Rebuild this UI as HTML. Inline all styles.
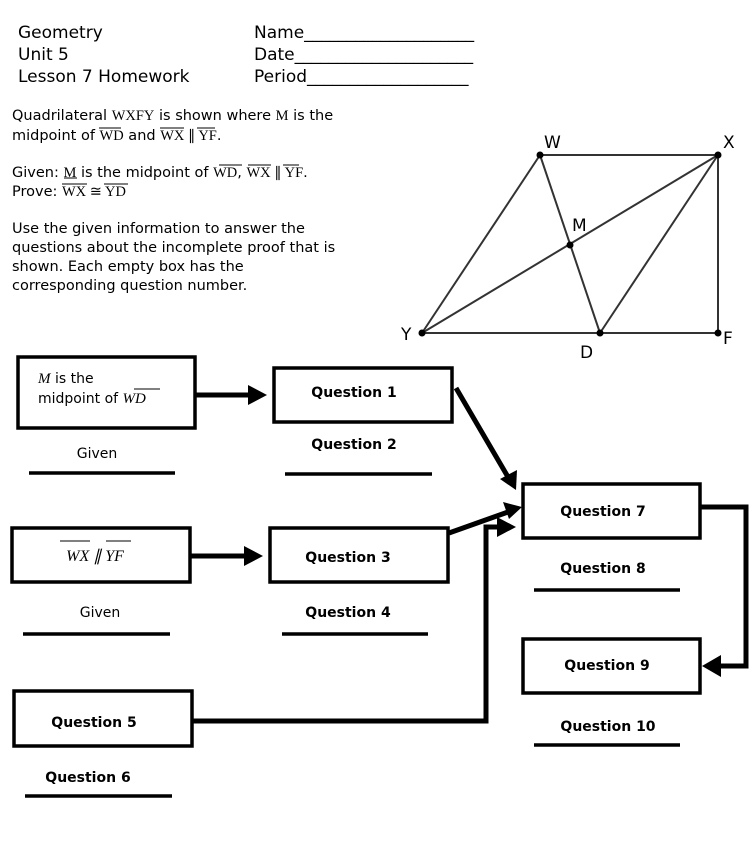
<!DOCTYPE html>
<html><head><meta charset="utf-8"><style>
body{margin:0;background:#fff;}
svg{display:block}
text{font-family:"DejaVu Sans","Liberation Sans",sans-serif;fill:#000}
.h{font-size:17px}
.p{font-size:14.5px}
.b{font-size:14px;font-weight:bold}
.g{font-size:14px}
.s{font-family:"Liberation Serif",serif}
.l{stroke:#333;stroke-width:2;fill:none}
</style></head><body>
<svg width="754" height="843" viewBox="0 0 754 843">
<text class="h" x="18" y="38">Geometry</text>
<text class="h" x="18" y="60">Unit 5</text>
<text class="h" x="18" y="82">Lesson 7 Homework</text>
<text class="h" x="254" y="38">Name____________________</text>
<text class="h" x="254" y="60">Date_____________________</text>
<text class="h" x="254" y="82">Period___________________</text>

<text class="p" x="12" y="120">Quadrilateral <tspan class="s">WXFY</tspan> is shown where <tspan class="s">M</tspan> is the</text>
<text class="p" x="12" y="140">midpoint of <tspan class="s">WD</tspan> and <tspan class="s">WX ∥ YF</tspan>.</text>
<line x1="99" y1="128" x2="121" y2="128" stroke="#000"/>
<line x1="160" y1="128" x2="184" y2="128" stroke="#000"/>
<line x1="197" y1="128" x2="215" y2="128" stroke="#000"/>
<text class="p" x="12" y="177">Given: <tspan class="s">M</tspan> is the midpoint of <tspan class="s">WD</tspan>, <tspan class="s">WX ∥ YF</tspan>.</text>
<line x1="64" y1="178" x2="77" y2="178" stroke="#000"/>
<line x1="219" y1="165" x2="242" y2="165" stroke="#000"/>
<line x1="248" y1="165" x2="271" y2="165" stroke="#000"/>
<line x1="283" y1="165" x2="299" y2="165" stroke="#000"/>
<text class="p" x="12" y="196">Prove: <tspan class="s">WX ≅ YD</tspan></text>
<line x1="62" y1="184" x2="87" y2="184" stroke="#000"/>
<line x1="104" y1="184" x2="128" y2="184" stroke="#000"/>
<text class="p" x="12" y="233">Use the given information to answer the</text>
<text class="p" x="12" y="252">questions about the incomplete proof that is</text>
<text class="p" x="12" y="271">shown. Each empty box has the</text>
<text class="p" x="12" y="290">corresponding question number.</text>

<!-- geometry -->
<g class="l">
<line x1="540" y1="155" x2="718" y2="155"/>
<line x1="718" y1="155" x2="718" y2="333"/>
<line x1="422" y1="333" x2="718" y2="333"/>
<line x1="422" y1="333" x2="540" y2="155"/>
<line x1="540" y1="155" x2="600" y2="333"/>
<line x1="422" y1="333" x2="718" y2="155"/>
<line x1="600" y1="333" x2="718" y2="155"/>
</g>
<g fill="#000"><circle cx="540" cy="155" r="3.5"/><circle cx="718" cy="155" r="3.5"/><circle cx="570" cy="245" r="3.5"/><circle cx="422" cy="333" r="3.5"/><circle cx="600" cy="333" r="3.5"/><circle cx="718" cy="333" r="3.5"/></g>
<g style="font-family:'Liberation Sans',sans-serif;font-size:17px">
<text x="544" y="148">W</text><text x="723" y="148">X</text><text x="572" y="231">M</text>
<text x="401" y="340">Y</text><text x="580" y="358">D</text><text x="723" y="344">F</text></g>

<!-- flowchart boxes -->
<g fill="none" stroke="#000" stroke-width="3.5">
<rect x="18" y="357" width="177" height="71"/>
<rect x="274" y="368" width="178" height="54"/>
<rect x="12" y="528" width="178" height="54"/>
<rect x="270" y="528" width="178" height="54"/>
<rect x="523" y="484" width="177" height="54"/>
<rect x="523" y="639" width="177" height="54"/>
<rect x="14" y="691" width="178" height="55"/>
</g>

<!-- underlines -->
<g stroke="#000" stroke-width="3.5">
<line x1="29" y1="473" x2="175" y2="473"/>
<line x1="285" y1="474" x2="432" y2="474"/>
<line x1="534" y1="590" x2="680" y2="590"/>
<line x1="23" y1="634" x2="170" y2="634"/>
<line x1="282" y1="634" x2="428" y2="634"/>
<line x1="534" y1="745" x2="680" y2="745"/>
<line x1="25" y1="796" x2="172" y2="796"/>
</g>

<!-- connectors -->
<g stroke="#000" stroke-width="5" fill="none">
<line x1="195" y1="395" x2="250" y2="395"/>
<line x1="190" y1="556" x2="246" y2="556"/>
<line x1="456" y1="388" x2="508" y2="477"/>
<line x1="449" y1="533" x2="508" y2="512"/>
<polyline points="192,721 486,721 486,527 500,527"/>
<polyline points="700,507 746,507 746,666 718,666"/>
</g>
<g fill="#000">
<polygon points="267,395 248,385 248,405"/>
<polygon points="263,556 244,546 244,566"/>
<polygon points="516,490 500,479 517,470"/>
<polygon points="522,507 503,502 509,519"/>
<polygon points="516,527 497,517 497,537"/>
<polygon points="702,666 721,655 721,677"/>
</g>

<!-- box texts -->
<text class="g" x="38" y="383"><tspan class="s" font-style="italic" font-size="15">M</tspan> is the</text>
<text class="g" x="38" y="403">midpoint of <tspan class="s" font-style="italic" font-size="15">WD</tspan></text>
<line x1="134" y1="389" x2="160" y2="389" stroke="#000" stroke-width="1"/>
<text class="s" x="95" y="561" text-anchor="middle" font-style="italic" font-size="16">WX ∥ YF</text>
<line x1="60" y1="541" x2="90" y2="541" stroke="#000" stroke-width="1"/>
<line x1="106" y1="541" x2="131" y2="541" stroke="#000" stroke-width="1"/>

<g class="b" text-anchor="middle">
<text class="b" x="354" y="397">Question 1</text>
<text class="b" x="354" y="449">Question 2</text>
<text class="b" x="348" y="562">Question 3</text>
<text class="b" x="348" y="617">Question 4</text>
<text class="b" x="94" y="727">Question 5</text>
<text class="b" x="88" y="782">Question 6</text>
<text class="b" x="603" y="516">Question 7</text>
<text class="b" x="603" y="573">Question 8</text>
<text class="b" x="607" y="670">Question 9</text>
<text class="b" x="608" y="731">Question 10</text>
</g>
<text class="g" x="97" y="458" text-anchor="middle">Given</text>
<text class="g" x="100" y="617" text-anchor="middle">Given</text>
</svg>
</body></html>
